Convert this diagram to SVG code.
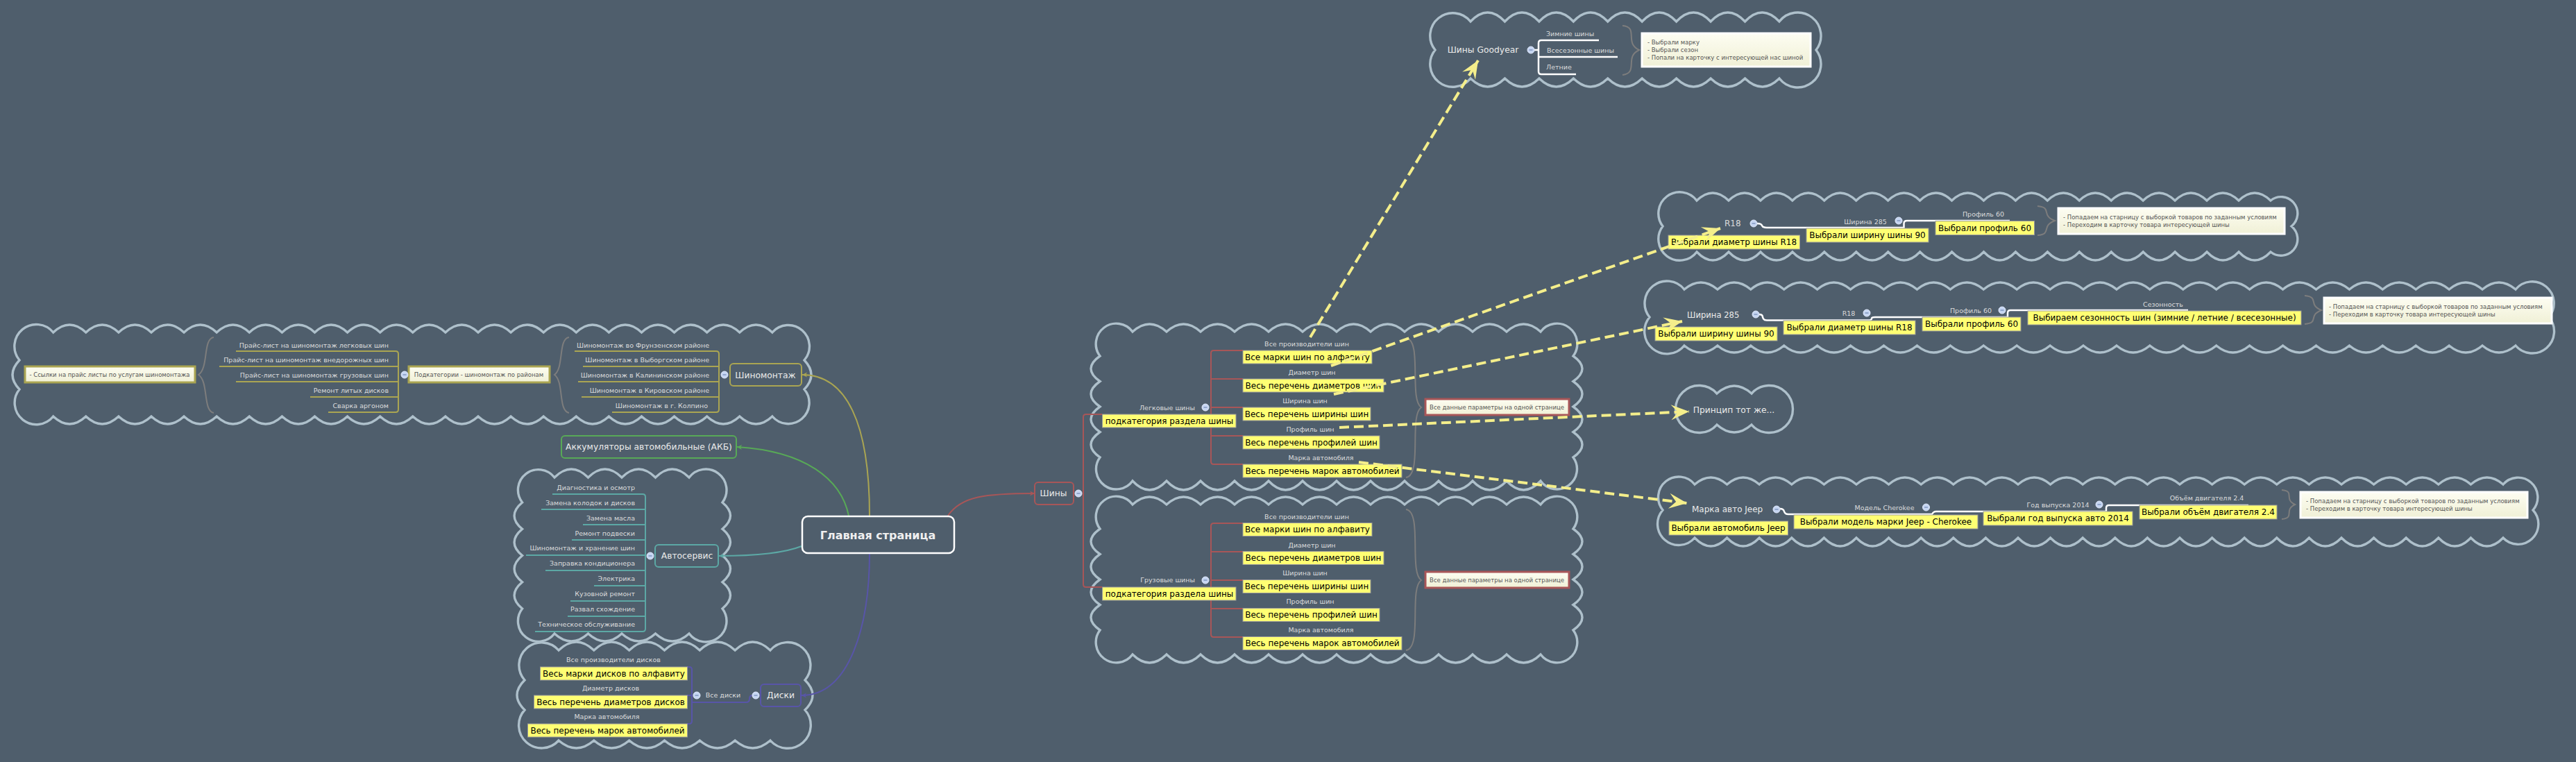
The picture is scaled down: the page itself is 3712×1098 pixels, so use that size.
<svg xmlns="http://www.w3.org/2000/svg" xmlns:xlink="http://www.w3.org/1999/xlink" width="3712" height="1098" viewBox="0 0 3712 1098">
<style>
text{font-family:"DejaVu Sans","Noto Sans",sans-serif;dominant-baseline:central}
.m{text-anchor:middle}.e{text-anchor:end}
.t1{font-size:16px;font-weight:bold;fill:#efefef}
.n{font-size:12.3px;fill:#eaeaea}
.s{font-size:9.5px;fill:#dcdcdc}
.y{font-size:12px;fill:#000}
.no{font-size:8.5px;fill:#555}
.cloud{fill:none;stroke:#aec0cb;stroke-width:3.4}
.brace{fill:none;stroke:#7d7d7d;stroke-width:2}
.yb{fill:#ffff73;stroke:#999;stroke-width:1}
.nb{stroke-width:2;fill:#4f5e6c}
.c{fill:none;stroke-width:2}
.w{fill:none;stroke:#fff;stroke-width:2.5}
.ol{stroke:#aaa552}.gr{stroke:#58a957}.te{stroke:#5ca8a5}.bl{stroke:#5855a8}.re{stroke:#a85658}
.note{fill:url(#ng);stroke-width:3}
.rel{fill:none;stroke:#f4ee8b;stroke-width:4;stroke-dasharray:14 7;marker-end:url(#big)}
</style>
<defs>
<linearGradient id="ng" x1="0" y1="0" x2="0" y2="1"><stop offset="0" stop-color="#fdfdf2"/><stop offset="1" stop-color="#f0f0d6"/></linearGradient>
<marker id="big" markerUnits="userSpaceOnUse" markerWidth="28" markerHeight="24" refX="26" refY="11" orient="auto" overflow="visible"><polygon points="26,11 0,0 10,11 0,22" fill="#f4ee8b"/></marker>
<marker id="aol" markerUnits="userSpaceOnUse" markerWidth="8" markerHeight="8" refX="7" refY="3.5" orient="auto"><polygon points="7,3.5 0,0 2,3.5 0,7" fill="#aaa552"/></marker>
<marker id="agr" markerUnits="userSpaceOnUse" markerWidth="8" markerHeight="8" refX="7" refY="3.5" orient="auto"><polygon points="7,3.5 0,0 2,3.5 0,7" fill="#58a957"/></marker>
<marker id="ate" markerUnits="userSpaceOnUse" markerWidth="8" markerHeight="8" refX="7" refY="3.5" orient="auto"><polygon points="7,3.5 0,0 2,3.5 0,7" fill="#5ca8a5"/></marker>
<marker id="abl" markerUnits="userSpaceOnUse" markerWidth="8" markerHeight="8" refX="7" refY="3.5" orient="auto"><polygon points="7,3.5 0,0 2,3.5 0,7" fill="#5855a8"/></marker>
<marker id="are" markerUnits="userSpaceOnUse" markerWidth="8" markerHeight="8" refX="7" refY="3.5" orient="auto"><polygon points="7,3.5 0,0 2,3.5 0,7" fill="#a85658"/></marker>
<g id="dot"><circle r="5" fill="#c6d6f2" stroke="#dfe8fb" stroke-width="1"/><path d="M-2.5 0H2.5" stroke="#6f86b3" stroke-width="1.2"/></g>
</defs>
<rect width="3712" height="1098" fill="#4f5e6c"/>

<g id="clouds">
<path class="cloud" d="M76.7 479q23.55-22 47.1 0 23.55-22 47.1 0 23.55-22 47.1 0 23.55-22 47.1 0 23.55-22 47.1 0 23.55-22 47.1 0 23.55-22 47.1 0 23.55-22 47.1 0 23.55-22 47.1 0 23.55-22 47.1 0 23.55-22 47.1 0 23.55-22 47.1 0 23.55-22 47.1 0 23.55-22 47.1 0 23.55-22 47.1 0 23.55-22 47.1 0 23.55-22 47.1 0 23.55-22 47.1 0 23.55-22 47.1 0 23.55-22 47.1 0 23.55-22 47.1 0 23.55-22 47.1 0A20 20 0 0 1 1159 519q20 21 0 42A20 20 0 0 1 1112.9 600q-23.55 22-47.1 0-23.55 22-47.1 0-23.55 22-47.1 0-23.55 22-47.1 0-23.55 22-47.1 0-23.55 22-47.1 0-23.55 22-47.1 0-23.55 22-47.1 0-23.55 22-47.1 0-23.55 22-47.1 0-23.55 22-47.1 0-23.55 22-47.1 0-23.55 22-47.1 0-23.55 22-47.1 0-23.55 22-47.1 0-23.55 22-47.1 0-23.55 22-47.1 0-23.55 22-47.1 0-23.55 22-47.1 0-23.55 22-47.1 0-23.55 22-47.1 0-23.55 22-47.1 0A20 20 0 0 1 28 561q-20-21 0-42A20 20 0 0 1 76.7 479Z"/>
<path class="cloud" d="M799 688q24.25-24 48.5 0 24.25-24 48.5 0 24.25-24 48.5 0 24.25-24 48.5 0A20 20 0 0 1 1041 724q23 19.1 0 38.25 23 19.1 0 38.25 23 19.1 0 38.25 23 19.1 0 38.25A20 20 0 0 1 993 913q-24.25 22-48.5 0-24.25 22-48.5 0-24.25 22-48.5 0-24.25 22-48.5 0A20 20 0 0 1 752.6 877q-23-19.1 0-38.25-23-19.1 0-38.25-23-19.1 0-38.25-23-19.1 0-38.25A20 20 0 0 1 799 688Z"/>
<path class="cloud" d="M805 937q25.4-24 50.83 0 25.4-24 50.83 0 25.4-24 50.83 0 25.4-24 50.83 0 25.4-24 50.83 0 25.4-24 50.83 0A20 20 0 0 1 1160 980q22 21.5 0 43A20 20 0 0 1 1110 1067q-25.4 22-50.83 0-25.4 22-50.83 0-25.4 22-50.83 0-25.4 22-50.83 0-25.4 22-50.83 0-25.4 22-50.83 0A20 20 0 0 1 756 1023q-22-21.5 0-43A20 20 0 0 1 805 937Z"/>
<path class="cloud" d="M1632 478q24.5-22 49 0 24.5-22 49 0 24.5-22 49 0 24.5-22 49 0 24.5-22 49 0 24.5-22 49 0 24.5-22 49 0 24.5-22 49 0 24.5-22 49 0 24.5-22 49 0 24.5-22 49 0 24.5-22 49 0A20 20 0 0 1 2267 513q26 18.25 0 36.5 26 18.25 0 36.5 26 18.25 0 36.5 26 18.25 0 36.5A20 20 0 0 1 2220 693q-24.5 26-49 0-24.5 26-49 0-24.5 26-49 0-24.5 26-49 0-24.5 26-49 0-24.5 26-49 0-24.5 26-49 0-24.5 26-49 0-24.5 26-49 0-24.5 26-49 0-24.5 26-49 0-24.5 26-49 0A20 20 0 0 1 1585 659q-26-18.25 0-36.5-26-18.25 0-36.5-26-18.25 0-36.5-26-18.25 0-36.5A20 20 0 0 1 1632 478Z"/>
<path class="cloud" d="M1632 727q24.5-22 49 0 24.5-22 49 0 24.5-22 49 0 24.5-22 49 0 24.5-22 49 0 24.5-22 49 0 24.5-22 49 0 24.5-22 49 0 24.5-22 49 0 24.5-22 49 0 24.5-22 49 0 24.5-22 49 0A20 20 0 0 1 2267 762q26 18.25 0 36.5 26 18.25 0 36.5 26 18.25 0 36.5 26 18.25 0 36.5A20 20 0 0 1 2220 943q-24.5 24-49 0-24.5 24-49 0-24.5 24-49 0-24.5 24-49 0-24.5 24-49 0-24.5 24-49 0-24.5 24-49 0-24.5 24-49 0-24.5 24-49 0-24.5 24-49 0-24.5 24-49 0-24.5 24-49 0A20 20 0 0 1 1585 908q-26-18.25 0-36.5-26-18.25 0-36.5-26-18.25 0-36.5-26-18.25 0-36.5A20 20 0 0 1 1632 727Z"/>
<path class="cloud" d="M2119 31q24.72-26 49.44 0 24.72-26 49.44 0 24.72-26 49.44 0 24.72-26 49.44 0 24.72-26 49.44 0 24.72-26 49.44 0 24.72-26 49.44 0 24.72-26 49.44 0 24.72-26 49.44 0A20 20 0 0 1 2617 72A20 20 0 0 1 2564 113q-24.72 24-49.44 0-24.72 24-49.44 0-24.72 24-49.44 0-24.72 24-49.44 0-24.72 24-49.44 0-24.72 24-49.44 0-24.72 24-49.44 0-24.72 24-49.44 0-24.72 24-49.44 0A20 20 0 0 1 2068 72A20 20 0 0 1 2119 31Z"/>
<path class="cloud" d="M2445 289q22.97-22 45.94 0 22.97-22 45.94 0 22.97-22 45.94 0 22.97-22 45.94 0 22.97-22 45.94 0 22.97-22 45.94 0 22.97-22 45.94 0 22.97-22 45.94 0 22.97-22 45.94 0 22.97-22 45.94 0 22.97-22 45.94 0 22.97-22 45.94 0 22.97-22 45.94 0 22.97-22 45.94 0 22.97-22 45.94 0 22.97-22 45.94 0 22.97-22 45.94 0 22.97-22 45.94 0A20 20 0 0 1 3302 326A20 20 0 0 1 3272 363q-22.97 24-45.94 0-22.97 24-45.94 0-22.97 24-45.94 0-22.97 24-45.94 0-22.97 24-45.94 0-22.97 24-45.94 0-22.97 24-45.94 0-22.97 24-45.94 0-22.97 24-45.94 0-22.97 24-45.94 0-22.97 24-45.94 0-22.97 24-45.94 0-22.97 24-45.94 0-22.97 24-45.94 0-22.97 24-45.94 0-22.97 24-45.94 0-22.97 24-45.94 0-22.97 24-45.94 0A20 20 0 0 1 2396 326A20 20 0 0 1 2445 289Z"/>
<path class="cloud" d="M2427 417q23.96-20 47.92 0 23.96-20 47.92 0 23.96-20 47.92 0 23.96-20 47.92 0 23.96-20 47.92 0 23.96-20 47.92 0 23.96-20 47.92 0 23.96-20 47.92 0 23.96-20 47.92 0 23.96-20 47.92 0 23.96-20 47.92 0 23.96-20 47.92 0 23.96-20 47.92 0 23.96-20 47.92 0 23.96-20 47.92 0 23.96-20 47.92 0 23.96-20 47.92 0 23.96-20 47.92 0 23.96-20 47.92 0 23.96-20 47.92 0 23.96-20 47.92 0 23.96-20 47.92 0 23.96-20 47.92 0 23.96-20 47.92 0 23.96-20 47.92 0A20 20 0 0 1 3673 457A20 20 0 0 1 3625 498q-23.96 20-47.92 0-23.96 20-47.92 0-23.96 20-47.92 0-23.96 20-47.92 0-23.96 20-47.92 0-23.96 20-47.92 0-23.96 20-47.92 0-23.96 20-47.92 0-23.96 20-47.92 0-23.96 20-47.92 0-23.96 20-47.92 0-23.96 20-47.92 0-23.96 20-47.92 0-23.96 20-47.92 0-23.96 20-47.92 0-23.96 20-47.92 0-23.96 20-47.92 0-23.96 20-47.92 0-23.96 20-47.92 0-23.96 20-47.92 0-23.96 20-47.92 0-23.96 20-47.92 0-23.96 20-47.92 0-23.96 20-47.92 0-23.96 20-47.92 0A20 20 0 0 1 2377 457A20 20 0 0 1 2427 417Z"/>
<path class="cloud" d="M2442 698q23.3-20 46.6 0 23.3-20 46.6 0 23.3-20 46.6 0 23.3-20 46.6 0 23.3-20 46.6 0 23.3-20 46.6 0 23.3-20 46.6 0 23.3-20 46.6 0 23.3-20 46.6 0 23.3-20 46.6 0 23.3-20 46.6 0 23.3-20 46.6 0 23.3-20 46.6 0 23.3-20 46.6 0 23.3-20 46.6 0 23.3-20 46.6 0 23.3-20 46.6 0 23.3-20 46.6 0 23.3-20 46.6 0 23.3-20 46.6 0 23.3-20 46.6 0 23.3-20 46.6 0 23.3-20 46.6 0 23.3-20 46.6 0 23.3-20 46.6 0A20 20 0 0 1 3650 735A20 20 0 0 1 3607 775q-23.3 24-46.6 0-23.3 24-46.6 0-23.3 24-46.6 0-23.3 24-46.6 0-23.3 24-46.6 0-23.3 24-46.6 0-23.3 24-46.6 0-23.3 24-46.6 0-23.3 24-46.6 0-23.3 24-46.6 0-23.3 24-46.6 0-23.3 24-46.6 0-23.3 24-46.6 0-23.3 24-46.6 0-23.3 24-46.6 0-23.3 24-46.6 0-23.3 24-46.6 0-23.3 24-46.6 0-23.3 24-46.6 0-23.3 24-46.6 0-23.3 24-46.6 0-23.3 24-46.6 0-23.3 24-46.6 0-23.3 24-46.6 0-23.3 24-46.6 0A20 20 0 0 1 2396 735A20 20 0 0 1 2442 698Z"/>
<path class="cloud" d="M2474 567q25-22 50 0A34 34 0 1 1 2524 612q-25 22-50 0A34 34 0 1 1 2474 567Z"/>
</g>

<g id="connectors">
<path class="c ol" marker-end="url(#aol)" d="M1253 743C1253 610 1220 540 1156 540"/>
<path class="c gr" marker-end="url(#agr)" d="M1223 743C1212 690 1160 650 1062 644"/>
<path class="c te" marker-end="url(#ate)" d="M1155 787C1130 797 1090 801 1036 801"/>
<path class="c bl" marker-end="url(#abl)" d="M1253 797C1253 900 1225 1002 1155 1002"/>
<path class="c re" marker-end="url(#are)" d="M1366 743C1385 715 1420 711 1491 711"/>
<path class="c ol" d="M340 506H570Q574 506 574 510V590Q574 594 570 594H473M316 528H574M340 550H574M447 572H574"/>
<path class="c ol" d="M828 506H1032Q1036 506 1036 510V590Q1036 594 1032 594H882M840 528H1036M833 550H1036M838 572H1036"/>
<path class="c te" d="M796 712H926Q930 712 930 716V906Q930 910 926 910H771M780 734H930M840 756H930M824 778H930M758 800H930M786 822H930M856 844H930M822 866H930M818 888H930"/>
<path class="c bl" d="M990 961H993Q997 961 997 965V1039Q997 1043 993 1043H990M990 1002H997M997 1012H1075Q1080 1012 1080 1007Q1080 1002 1084 1002"/>
<path class="c re" d="M1588 597H1565Q1561 597 1561 601V842Q1561 846 1565 846H1588"/>
<path class="c re" d="M1791 505H1749Q1745 505 1745 509V665Q1745 669 1749 669H1791M1745 546H1791M1745 587H1791M1745 628H1791"/>
<path class="c re" d="M1791 754H1749Q1745 754 1745 758V914Q1745 918 1749 918H1791M1745 795H1791M1745 836H1791M1745 877H1791"/>
<path class="w" d="M2304 58H2221Q2217 58 2217 62V103Q2217 107 2221 107H2271M2217 82H2331M2211 72H2217"/>
<path class="w" d="M2532 322Q2538 322 2539 325Q2540 328 2546 328H2743.5V322Q2743.5 318 2748 318H2896"/>
<path class="w" d="M2535 453Q2540 453 2540 457Q2541 461.5 2546 461.5H2692Q2697 461.5 2697 459Q2697 457 2702 457H2893V451Q2893 447 2897 447H3153"/>
<path class="w" d="M2565 733Q2570 733 2571 737Q2572 741 2577 741H2784Q2786 737 2790 737H3035V732Q3035 728 3039 728H3240"/>
</g>

<g id="braces">
<path class="brace" d="M308 486C292 488 301 530 286 540C301 550 292 592 308 595"/>
<path class="brace" d="M820 486C804 488 813 530 799 540C813 550 804 592 820 595"/>
<path class="brace" d="M2026 487C2050 490 2030 575 2048 587C2030 599 2050 685 2026 688"/>
<path class="brace" d="M2026 734C2050 737 2030 824 2048 836C2030 848 2050 934 2026 937"/>
<path class="brace" d="M2338 37C2362 39 2340 62 2362 72C2340 82 2362 105 2338 108"/>
<path class="brace" d="M2936 297C2958 299 2940 310 2961 318C2940 326 2958 337 2936 339"/>
<path class="brace" d="M3321 426C3343 428 3325 439 3345 447C3325 455 3343 465 3321 467"/>
<path class="brace" d="M3288 706C3308 708 3290 719 3307 727C3290 735 3308 746 3288 748"/>
</g>

<g id="n-main"><rect x="1156" y="744" width="219" height="53" rx="8" fill="#4f5e6c" stroke="#fff" stroke-width="2.5"/><text class="t1 m" x="1265" y="771">Главная страница</text></g>

<g id="n-shinomontazh">
<rect class="nb ol" x="1052" y="524" width="103" height="32" rx="5"/><text class="n m" x="1103" y="541">Шиномонтаж</text>
<use href="#dot" x="1044" y="540"/>
<text class="s e" x="1022" y="497">Шиномонтаж во Фрунзенском районе</text>
<text class="s e" x="1022" y="518">Шиномонтаж в Выборгском районе</text>
<text class="s e" x="1022" y="540">Шиномонтаж в Калининском районе</text>
<text class="s e" x="1022" y="562">Шиномонтаж в Кировском районе</text>
<text class="s e" x="1020" y="584">Шиномонтаж в г. Колпино</text>
<rect class="note ol" x="589" y="528" width="203" height="23"/><text class="no m" x="690" y="540">Подкатегории - шиномонтаж по районам</text>
<use href="#dot" x="583" y="540"/>
<text class="s e" x="560" y="497">Прайс-лист на шиномонтаж легковых шин</text>
<text class="s e" x="560" y="518">Прайс-лист на шиномонтаж внедорожных шин</text>
<text class="s e" x="560" y="540">Прайс-лист на шиномонтаж грузовых шин</text>
<text class="s e" x="560" y="562">Ремонт литых дисков</text>
<text class="s e" x="560" y="584">Сварка аргоном</text>
<rect class="note ol" x="36" y="528" width="245" height="23"/><text class="no m" x="158" y="540">- Ссылки на прайс листы по услугам шиномонтажа</text>
</g>

<g id="n-akb"><rect class="nb gr" x="809" y="628" width="252" height="32" rx="5"/><text class="n m" x="935" y="644">Аккумуляторы автомобильные (АКБ)</text></g>

<g id="n-avtoservis">
<rect class="nb te" x="944" y="785" width="91" height="32" rx="5"/><text class="n m" x="990" y="801">Автосервис</text>
<use href="#dot" x="937" y="801"/>
<text class="s e" x="915" y="702">Диагностика и осмотр</text>
<text class="s e" x="915" y="724">Замена колодок и дисков</text>
<text class="s e" x="915" y="746">Замена масла</text>
<text class="s e" x="915" y="768">Ремонт подвески</text>
<text class="s e" x="915" y="789">Шиномонтаж и хранение шин</text>
<text class="s e" x="915" y="811">Заправка кондиционера</text>
<text class="s e" x="915" y="833">Электрика</text>
<text class="s e" x="915" y="855">Кузовной ремонт</text>
<text class="s e" x="915" y="877">Развал схождение</text>
<text class="s e" x="915" y="899">Техническое обслуживание</text>
</g>

<g id="n-diski">
<rect class="nb bl" x="1096" y="986" width="58" height="32" rx="5"/><text class="n m" x="1125" y="1002">Диски</text>
<use href="#dot" x="1089" y="1002"/>
<text class="s m" x="1042" y="1001">Все диски</text>
<use href="#dot" x="1004" y="1002"/>
<text class="s m" x="884" y="950">Все производители дисков</text>
<rect class="yb" x="778.5" y="961" width="212" height="19"/><text class="y m" x="884.5" y="970.5">Весь марки дисков по алфавиту</text>
<text class="s m" x="880" y="991">Диаметр дисков</text>
<rect class="yb" x="769.5" y="1002" width="221" height="19"/><text class="y m" x="880" y="1011.5">Весь перечень диаметров дисков</text>
<text class="s m" x="874.5" y="1032">Марка автомобиля</text>
<rect class="yb" x="760.5" y="1043" width="230" height="19"/><text class="y m" x="875.5" y="1052.5">Весь перечень марок автомобилей</text>
</g>

<g id="n-shiny"><rect class="nb re" x="1491" y="695" width="56" height="32" rx="5"/><text class="n m" x="1518" y="711">Шины</text><use href="#dot" x="1554" y="711"/></g>

<g id="n-legkovye">
<text class="s e" x="1722" y="587">Легковые шины</text><use href="#dot" x="1737" y="587"/>
<rect class="yb" x="1588.5" y="597" width="192.5" height="19"/><text class="y m" x="1685" y="606.5">подкатегория раздела шины</text>
<text class="s m" x="1883" y="495">Все производители шин</text>
<rect class="yb" x="1791" y="505" width="186" height="19"/><text class="y m" x="1884" y="514.5">Все марки шин по алфавиту</text>
<text class="s m" x="1890.5" y="536">Диаметр шин</text>
<rect class="yb" x="1791" y="546" width="203" height="19"/><text class="y m" x="1892.5" y="555.5">Весь перечень диаметров шин</text>
<text class="s m" x="1880.5" y="577">Ширина шин</text>
<rect class="yb" x="1791" y="587" width="184" height="19"/><text class="y m" x="1883" y="596.5">Весь перечень ширины шин</text>
<text class="s m" x="1888" y="618">Профиль шин</text>
<rect class="yb" x="1791" y="628" width="197" height="19"/><text class="y m" x="1889.5" y="637.5">Весь перечень профилей шин</text>
<text class="s m" x="1903.5" y="659">Марка автомобиля</text>
<rect class="yb" x="1791" y="669" width="229" height="19"/><text class="y m" x="1905.5" y="678.5">Весь перечень марок автомобилей</text>
<rect class="note re" x="2054" y="575" width="207" height="23"/><text class="no m" x="2157" y="587">Все данные параметры на одной странице</text>
</g>

<g id="n-gruzovye">
<text class="s e" x="1722" y="835">Грузовые шины</text><use href="#dot" x="1737" y="836"/>
<rect class="yb" x="1588.5" y="846" width="192.5" height="19"/><text class="y m" x="1685" y="855.5">подкатегория раздела шины</text>
<text class="s m" x="1883" y="744">Все производители шин</text>
<rect class="yb" x="1791" y="753.5" width="186" height="19"/><text class="y m" x="1884" y="763">Все марки шин по алфавиту</text>
<text class="s m" x="1890.5" y="785">Диаметр шин</text>
<rect class="yb" x="1791" y="794.5" width="203" height="19"/><text class="y m" x="1892.5" y="804">Весь перечень диаметров шин</text>
<text class="s m" x="1880.5" y="825">Ширина шин</text>
<rect class="yb" x="1791" y="835.5" width="184" height="19"/><text class="y m" x="1883" y="845">Весь перечень ширины шин</text>
<text class="s m" x="1888" y="866">Профиль шин</text>
<rect class="yb" x="1791" y="876.5" width="197" height="19"/><text class="y m" x="1889.5" y="886">Весь перечень профилей шин</text>
<text class="s m" x="1903.5" y="907">Марка автомобиля</text>
<rect class="yb" x="1791" y="917.5" width="229" height="19"/><text class="y m" x="1905.5" y="927">Весь перечень марок автомобилей</text>
<rect class="note re" x="2054" y="824" width="207" height="23"/><text class="no m" x="2157" y="836">Все данные параметры на одной странице</text>
</g>

<g id="n-goodyear">
<text class="n m" x="2137" y="72">Шины Goodyear</text><use href="#dot" x="2206" y="72"/>
<text class="s" x="2228" y="48">Зимние шины</text>
<text class="s" x="2229" y="72">Всесезонные шины</text>
<text class="s" x="2228" y="96">Летние</text>
<rect x="2366" y="48" width="243" height="48" stroke="#fff" class="note"/>
<text class="no" x="2374" y="61">- Выбрали марку</text>
<text class="no" x="2374" y="72">- Выбрали сезон</text>
<text class="no" x="2374" y="83">- Попали на карточку с интересующей нас шиной</text>
</g>

<g id="n-r18">
<text class="s" x="2485" y="322" style="font-size:12px">R18</text><use href="#dot" x="2527" y="322"/>
<rect class="yb" x="2404" y="339" width="189.5" height="20"/><text class="y m" x="2498.5" y="349">Выбрали диаметр шины R18</text>
<text class="s m" x="2688" y="319">Ширина 285</text><use href="#dot" x="2736" y="318"/>
<rect class="yb" x="2603" y="329" width="176" height="20"/><text class="y m" x="2691" y="339">Выбрали ширину шины 90</text>
<text class="s m" x="2858" y="308">Профиль 60</text>
<rect class="yb" x="2789" y="318.5" width="142.5" height="20"/><text class="y m" x="2860" y="328.5">Выбрали профиль 60</text>
<rect x="2966" y="300" width="326" height="37" stroke="#fff" class="note"/>
<text class="no" x="2973" y="313">- Попадаем на старницу с выборкой товаров по заданным условиям</text>
<text class="no" x="2973" y="324">- Переходим в карточку товара интересующей шины</text>
</g>

<g id="n-shirina">
<text class="n" x="2431" y="454" style="font-size:11.6px">Ширина 285</text><use href="#dot" x="2530" y="453"/>
<rect class="yb" x="2385" y="471" width="176" height="20"/><text class="y m" x="2473" y="481">Выбрали ширину шины 90</text>
<text class="s m" x="2664" y="451">R18</text><use href="#dot" x="2690" y="451"/>
<rect class="yb" x="2570" y="462" width="190" height="20"/><text class="y m" x="2665" y="472">Выбрали диаметр шины R18</text>
<text class="s m" x="2840" y="447">Профиль 60</text><use href="#dot" x="2885" y="447"/>
<rect class="yb" x="2770" y="457" width="142" height="20"/><text class="y m" x="2841" y="467">Выбрали профиль 60</text>
<text class="s m" x="3117" y="438">Сезонность</text>
<rect class="yb" x="2922" y="448" width="394" height="20"/><text class="y m" x="3119" y="458">Выбираем сезонность шин (зимние / летние / всесезонные)</text>
<rect x="3349" y="429" width="328" height="37" stroke="#fff" class="note"/>
<text class="no" x="3356" y="442">- Попадаем на старницу с выборкой товаров по заданным условиям</text>
<text class="no" x="3356" y="453">- Переходим в карточку товара интересующей шины</text>
</g>

<g id="n-jeep">
<text class="n" x="2438" y="734" style="font-size:12px">Марка авто Jeep</text><use href="#dot" x="2560" y="734"/>
<rect class="yb" x="2405" y="751" width="171.5" height="20"/><text class="y m" x="2490.5" y="761">Выбрали автомобиль Jeep</text>
<text class="s m" x="2715.5" y="731">Модель Cherokee</text><use href="#dot" x="2775.5" y="731"/>
<rect class="yb" x="2585" y="742" width="265" height="20"/><text class="y m" x="2717.5" y="752">Выбрали модель марки Jeep - Cherokee</text>
<text class="s m" x="2965.5" y="727">Год выпуска 2014</text><use href="#dot" x="3025" y="727"/>
<rect class="yb" x="2858" y="737" width="215" height="20"/><text class="y m" x="2965.5" y="747">Выбрали год выпуска авто 2014</text>
<text class="s m" x="3180" y="717">Объём двигателя 2.4</text>
<rect class="yb" x="3083" y="728" width="198" height="20"/><text class="y m" x="3182" y="738">Выбрали объём двигателя 2.4</text>
<rect x="3315" y="709" width="327" height="37" stroke="#fff" class="note"/>
<text class="no" x="3323" y="722">- Попадаем на старницу с выборкой товаров по заданным условиям</text>
<text class="no" x="3323" y="733">- Переходим в карточку товара интересующей шины</text>
</g>

<g id="n-princip"><text class="n m" x="2498.5" y="591">Принцип тот же...</text></g>

<g id="relationships">
<path class="rel" d="M1888 486L2130 87"/>
<path class="rel" d="M1918 527L2479 329"/>
<path class="rel" d="M1922 568L2424 463"/>
<path class="rel" d="M1930 616L2434 593"/>
<path class="rel" d="M1958 666L2431 725"/>
</g>
</svg>
